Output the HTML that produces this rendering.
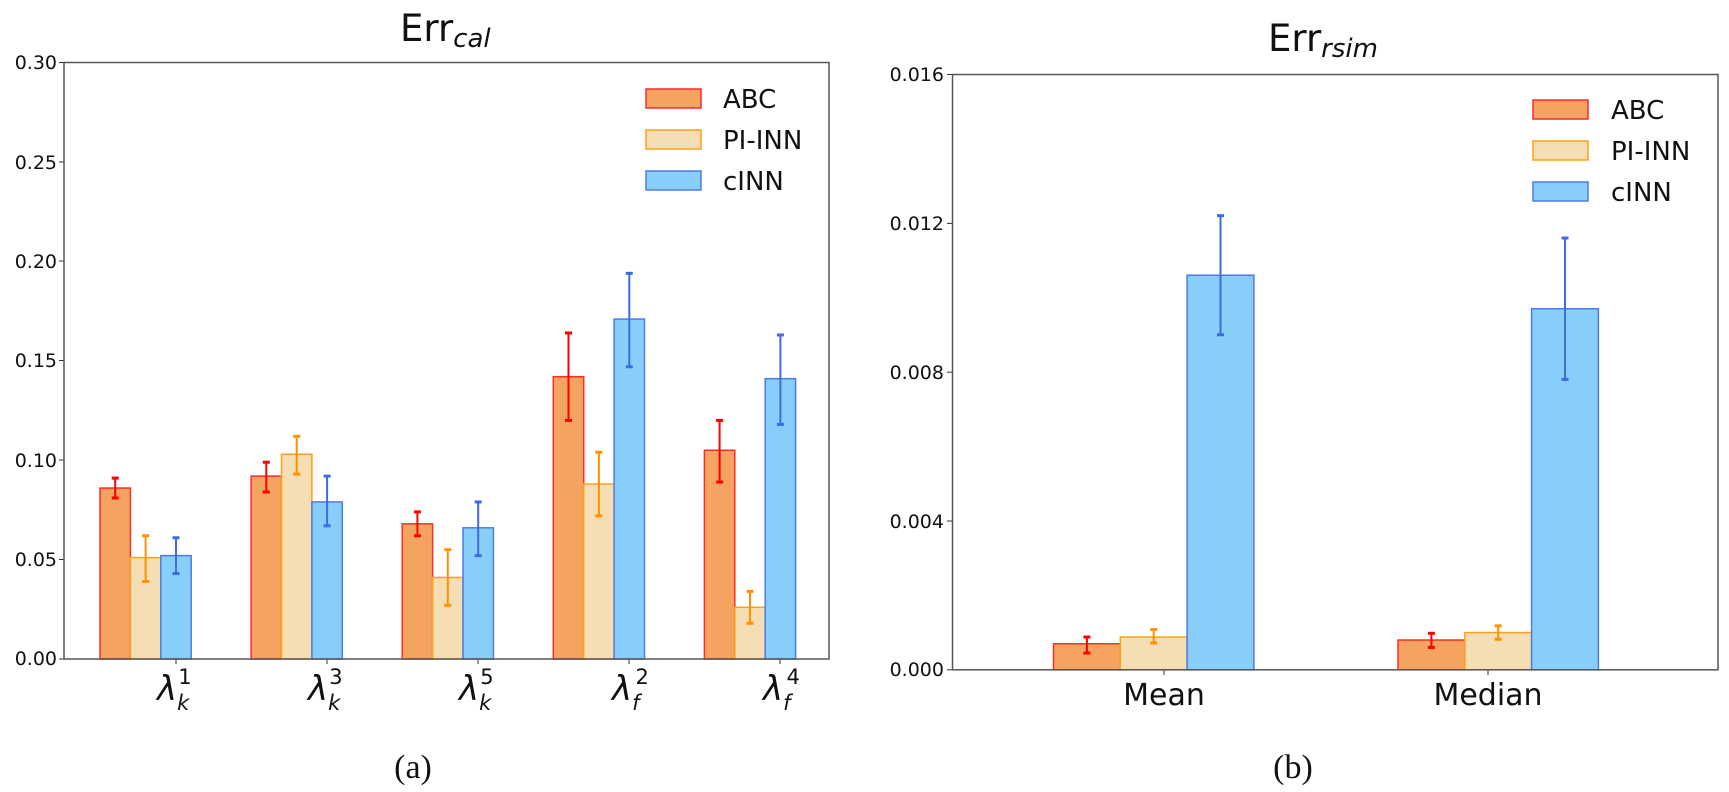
<!DOCTYPE html>
<html><head><meta charset="utf-8"><style>
html,body{margin:0;padding:0;background:#fff;}
svg{display:block;}
text{font-family:"DejaVu Sans","Liberation Sans",sans-serif;fill:#111;}
</style></head><body>
<svg width="1729" height="792" viewBox="0 0 1729 792" xmlns="http://www.w3.org/2000/svg">
<text x="400" y="41" font-size="37">Err<tspan font-size="26" font-style="italic" dy="6">cal</tspan></text>
<g font-size="19" text-anchor="end">
<text x="57" y="69">0.30</text>
<text x="57" y="169">0.25</text>
<text x="57" y="268">0.20</text>
<text x="57" y="367">0.15</text>
<text x="57" y="467">0.10</text>
<text x="57" y="566">0.05</text>
<text x="57" y="665">0.00</text>
</g>
<g stroke="#333" stroke-width="1">
<line x1="59" y1="62.5" x2="64" y2="62.5"/><line x1="59" y1="162" x2="64" y2="162"/><line x1="59" y1="261" x2="64" y2="261"/><line x1="59" y1="360.5" x2="64" y2="360.5"/><line x1="59" y1="460" x2="64" y2="460"/><line x1="59" y1="559.5" x2="64" y2="559.5"/><line x1="59" y1="659" x2="64" y2="659"/>
<line x1="176" y1="659" x2="176" y2="664"/><line x1="327" y1="659" x2="327" y2="664"/><line x1="478" y1="659" x2="478" y2="664"/><line x1="629" y1="659" x2="629" y2="664"/><line x1="780" y1="659" x2="780" y2="664"/>
</g>
<g id="lbars"></g>
<rect x="64" y="62.5" width="765" height="596.5" fill="none" stroke="#555" stroke-width="1.5"/>
<rect x="646" y="89" width="55" height="19" fill="#f4a460" stroke="#ff2a2a" stroke-width="1.5"/>
<rect x="646" y="130" width="55" height="19" fill="#f5deb3" stroke="#ff9f1a" stroke-width="1.5"/>
<rect x="646" y="171" width="55" height="19" fill="#87cefa" stroke="#4f7ae8" stroke-width="1.5"/>
<g font-size="26"><text x="723" y="108">ABC</text><text x="723" y="149">PI-INN</text><text x="723" y="190">cINN</text></g>
<g font-size="34" font-style="italic">
<text x="157" y="700">λ<tspan font-size="21" dy="10">k</tspan><tspan font-size="21" font-style="normal" dx="-11" dy="-26">1</tspan></text>
<text x="308" y="700">λ<tspan font-size="21" dy="10">k</tspan><tspan font-size="21" font-style="normal" dx="-11" dy="-26">3</tspan></text>
<text x="459" y="700">λ<tspan font-size="21" dy="10">k</tspan><tspan font-size="21" font-style="normal" dx="-11" dy="-26">5</tspan></text>
<text x="612" y="700">λ<tspan font-size="21" dy="10">f</tspan><tspan font-size="21" font-style="normal" dx="-4" dy="-26">2</tspan></text>
<text x="763" y="700">λ<tspan font-size="21" dy="10">f</tspan><tspan font-size="21" font-style="normal" dx="-4" dy="-26">4</tspan></text>
</g>
<text x="413" y="778" font-size="34" text-anchor="middle" style="font-family:'Liberation Serif',serif">(a)</text>

<text x="1268" y="51" font-size="37">Err<tspan font-size="26" font-style="italic" dy="6">rsim</tspan></text>
<g font-size="19" text-anchor="end">
<text x="944" y="81">0.016</text>
<text x="944" y="230">0.012</text>
<text x="944" y="379">0.008</text>
<text x="944" y="528">0.004</text>
<text x="944" y="676">0.000</text>
</g>
<g stroke="#333" stroke-width="1">
<line x1="947" y1="74.5" x2="952" y2="74.5"/><line x1="947" y1="223.4" x2="952" y2="223.4"/><line x1="947" y1="372.2" x2="952" y2="372.2"/><line x1="947" y1="521" x2="952" y2="521"/><line x1="947" y1="669.8" x2="952" y2="669.8"/>
<line x1="1164" y1="669.8" x2="1164" y2="675"/><line x1="1488" y1="669.8" x2="1488" y2="675"/>
</g>
<g id="rbars"></g>
<rect x="952.5" y="74.5" width="765.5" height="595.3" fill="none" stroke="#555" stroke-width="1.5"/>
<rect x="1533" y="100" width="55" height="19" fill="#f4a460" stroke="#ff2a2a" stroke-width="1.5"/>
<rect x="1533" y="141" width="55" height="19" fill="#f5deb3" stroke="#ff9f1a" stroke-width="1.5"/>
<rect x="1533" y="182" width="55" height="19" fill="#87cefa" stroke="#4f7ae8" stroke-width="1.5"/>
<g font-size="26"><text x="1611" y="119">ABC</text><text x="1611" y="160">PI-INN</text><text x="1611" y="201">cINN</text></g>
<g font-size="30" text-anchor="middle"><text x="1164" y="705">Mean</text><text x="1488" y="705">Median</text></g>
<text x="1293" y="778" font-size="34" text-anchor="middle" style="font-family:'Liberation Serif',serif">(b)</text>
</svg>
<script>
(function(){
var NS="http://www.w3.org/2000/svg";
var fills=["#f4a460","#f5deb3","#87cefa"],strokes=["#ff2a2a","#ff9f1a","#4f7ae8"],errc=["#ff0000","#ff9100","#3d6be0"];
function el(g,t,a){var e=document.createElementNS(NS,t);for(var k in a)e.setAttribute(k,a[k]);g.appendChild(e);}
function bar(g,x,w,y0,yv,ylo,yhi,i){
 el(g,"rect",{x:x,y:yv,width:w,height:y0-yv,fill:fills[i],stroke:strokes[i],"stroke-width":1.5});
 var c=x+w/2;
 el(g,"line",{x1:c,y1:ylo,x2:c,y2:yhi,stroke:errc[i],"stroke-width":2});
 el(g,"line",{x1:c-3.5,y1:ylo,x2:c+3.5,y2:ylo,stroke:errc[i],"stroke-width":3});
 el(g,"line",{x1:c-3.5,y1:yhi,x2:c+3.5,y2:yhi,stroke:errc[i],"stroke-width":3});
}
var L=document.getElementById("lbars");
function YL(v){return 659-v*1988;}
var data=[[[.086,.081,.091],[.051,.039,.062],[.052,.043,.061]],
[[.092,.084,.099],[.103,.093,.112],[.079,.067,.092]],
[[.068,.062,.074],[.041,.027,.055],[.066,.052,.079]],
[[.142,.120,.164],[.088,.072,.104],[.171,.147,.194]],
[[.105,.089,.120],[.026,.018,.034],[.141,.118,.163]]];
var w=30.4;
for(var g=0;g<5;g++){var c=176+151.1*g;
 for(var i=0;i<3;i++){var d=data[g][i];bar(L,c-2.5*w+i*w,w,659,YL(d[0]),YL(d[1]),YL(d[2]),i);}}
var R=document.getElementById("rbars");
function YR(v){return 669.8-v*37225;}
var rd=[[[.0007,.00045,.00088],[.00088,.00072,.00108],[.0106,.0090,.0122]],
[[.0008,.0006,.00098],[.0010,.00082,.00118],[.0097,.0078,.0116]]];
var st=[1053.5,1398];var rw=66.8;
for(var g=0;g<2;g++)for(var i=0;i<3;i++){var d=rd[g][i];bar(R,st[g]+i*rw,rw,669.8,YR(d[0]),YR(d[1]),YR(d[2]),i);}
})();
</script>
</body></html>
